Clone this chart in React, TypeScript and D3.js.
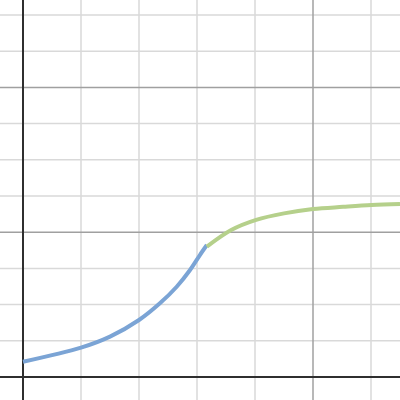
import * as d3 from 'd3';

// curve samples
const blueX = [0, 1, 1.5, 2, 2.36, 2.65, 2.88, 3.05, 3.17];
const blueY = [0.21, 0.405, 0.557, 0.787, 1.018, 1.247, 1.478, 1.685, 1.823];
const greenX = [3.17, 3.59, 4.02, 4.5, 5, 5.52, 6.01, 6.5];
const greenY = [1.8, 2.03, 2.17, 2.26, 2.32, 2.35, 2.375, 2.39];

const gridX = [1, 2, 3, 4, 5, 6];
const majorX = [5];
const gridY = [0.5, 1, 1.5, 2, 2.5, 3, 3.5, 4, 4.5, 5];
const majorY = [2, 4];

const size = 400;

export default function App() {
  const x = d3.scaleLinear().domain([-23 / 58, (size - 23) / 58]).range([0, size]);
  const y = d3.scaleLinear().domain([-23 / 72.4, 377 / 72.4]).range([size, 0]);

  const line = d3
    .line<[number, number]>()
    .x((d) => x(d[0]))
    .y((d) => y(d[1]))
    .curve(d3.curveCatmullRom.alpha(0.5));

  const blue = blueX.map((v, i) => [v, blueY[i]] as [number, number]);
  const green = greenX.map((v, i) => [v, greenY[i]] as [number, number]);

  return (
    <svg
      width={size}
      height={size}
      style={{ position: 'absolute', left: 0, top: 0, display: 'block', background: '#fff' }}
    >
      {/* minor grid */}
      {gridX.filter((v) => !majorX.includes(v)).map((v) => (
        <line key={'vx' + v} x1={x(v)} x2={x(v)} y1={0} y2={size} stroke="#d9d9d9" strokeWidth={1.5} />
      ))}
      {gridY.filter((v) => !majorY.includes(v)).map((v) => (
        <line key={'hy' + v} x1={0} x2={size} y1={y(v)} y2={y(v)} stroke="#d9d9d9" strokeWidth={1.5} />
      ))}
      {/* major grid */}
      {majorX.map((v) => (
        <line key={'mx' + v} x1={x(v)} x2={x(v)} y1={0} y2={size} stroke="#a0a0a0" strokeWidth={1.5} />
      ))}
      {majorY.map((v) => (
        <line key={'my' + v} x1={0} x2={size} y1={y(v)} y2={y(v)} stroke="#a0a0a0" strokeWidth={1.5} />
      ))}
      {/* axes */}
      <line x1={x(0)} x2={x(0)} y1={0} y2={size} stroke="#2f2f2f" strokeWidth={2} />
      <line x1={0} x2={size} y1={y(0)} y2={y(0)} stroke="#2f2f2f" strokeWidth={2} />
      {/* curves */}
      <path d={line(blue) || ''} fill="none" stroke="#7ba4d5" strokeWidth={4} strokeLinecap="butt" />
      <path d={line(green) || ''} fill="none" stroke="#b5d08b" strokeWidth={4} strokeLinecap="butt" />
    </svg>
  );
}
